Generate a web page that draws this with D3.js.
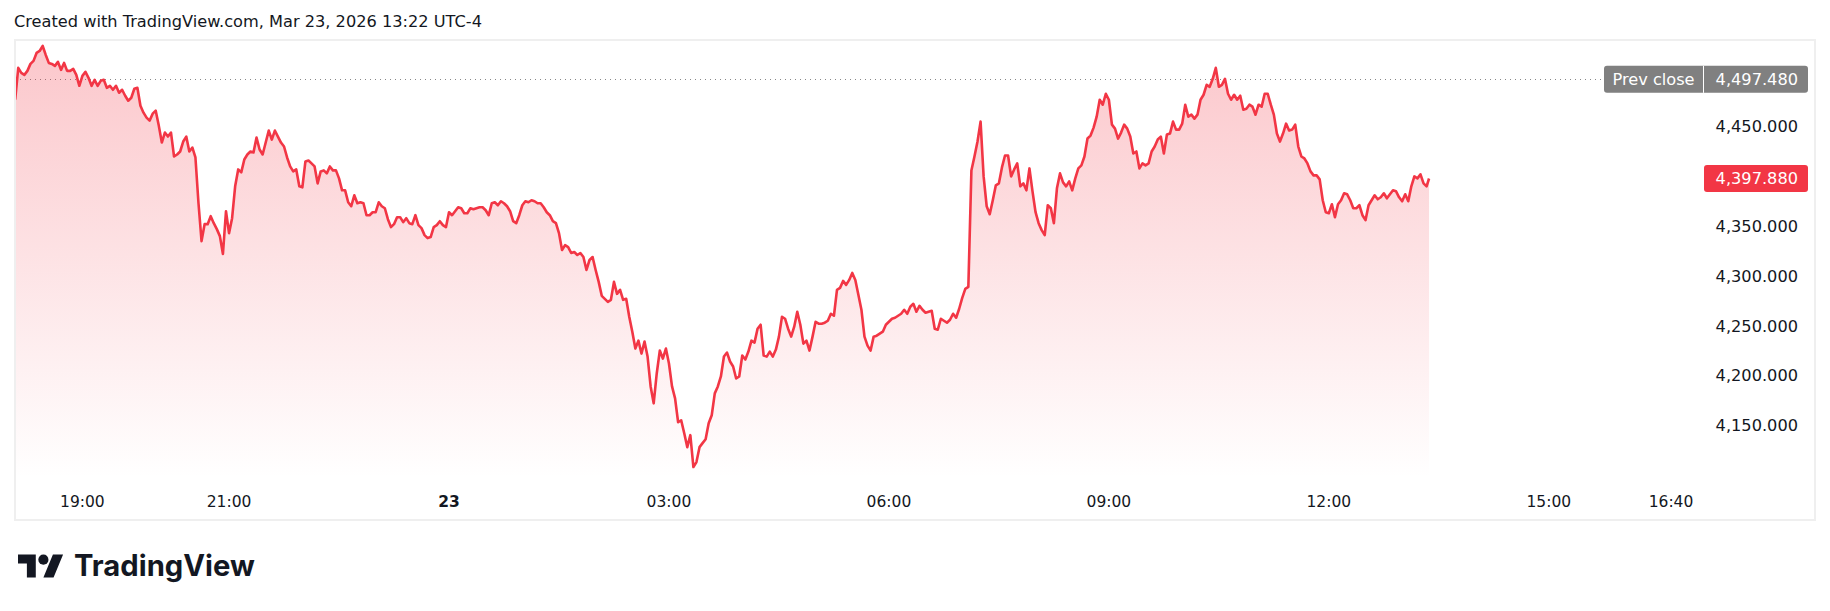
<!DOCTYPE html>
<html><head><meta charset="utf-8">
<script src="https://cdn.jsdelivr.net/npm/d3@7"></script>
<style>html,body{margin:0;padding:0;background:#fff;} svg{display:block;}</style>
</head><body>
<svg id="c" width="1830" height="611"></svg>
<script>
const titleText = "Created with TradingView.com, Mar 23, 2026 13:22 UTC-4";
const brandText = "TradingView";
const seriesStart = "2026-03-22T18:05";
const seriesStepSeconds = 150;
const prices = [
4477,4509,4504,4502,4506,4513,4516,4524,4526,4531,
4522,4514,4513,4511,4515,4507,4514,4506,4506,4508,
4502,4491,4501,4505,4499,4491,4497,4491,4496,4497,
4489,4491,4487,4491,4484,4487,4481,4476,4479,4488,
4489,4471,4464,4459,4456,4463,4466,4451,4434,4444,
4440,4444,4420,4422,4425,4435,4440,4425,4429,4419,
4373,4335,4352,4352,4360,4353,4347,4340,4322,4365,
4343,4358,4390,4407,4404,4417,4422,4425,4424,4439,
4427,4422,4434,4446,4437,4446,4440,4434,4430,4419,
4410,4405,4407,4390,4389,4415,4416,4413,4410,4393,
4405,4406,4403,4410,4406,4406,4398,4386,4386,4374,
4370,4381,4373,4374,4373,4361,4361,4364,4364,4374,
4370,4368,4357,4349,4352,4359,4359,4354,4358,4353,
4352,4361,4351,4348,4341,4338,4339,4349,4351,4355,
4351,4349,4364,4361,4365,4369,4368,4363,4363,4368,
4367,4368,4369,4369,4366,4361,4373,4374,4371,4375,
4373,4370,4365,4355,4353,4361,4371,4375,4374,4376,
4375,4373,4373,4369,4364,4361,4355,4353,4343,4326,
4331,4329,4323,4324,4321,4323,4319,4306,4316,4319,
4306,4294,4280,4277,4274,4276,4294,4282,4286,4276,
4277,4259,4244,4227,4235,4222,4234,4219,4189,4172,
4202,4225,4217,4227,4212,4189,4177,4153,4155,4142,
4128,4140,4108,4113,4128,4132,4136,4152,4160,4182,
4189,4199,4219,4223,4214,4209,4197,4199,4220,4216,
4224,4235,4233,4247,4251,4220,4219,4224,4219,4226,
4239,4259,4257,4247,4239,4249,4264,4251,4232,4235,
4225,4239,4254,4252,4252,4253,4255,4262,4260,4286,
4288,4295,4291,4296,4303,4296,4281,4266,4239,4230,
4225,4239,4240,4242,4244,4251,4254,4257,4258,4260,
4262,4266,4262,4269,4272,4264,4270,4266,4263,4264,
4265,4247,4246,4257,4255,4253,4256,4262,4258,4267,
4278,4287,4289,4406,4420,4435,4455,4400,4370,4362,
4376,4391,4393,4409,4421,4421,4400,4407,4413,4390,
4393,4386,4408,4385,4364,4353,4346,4341,4371,4368,
4353,4388,4403,4394,4390,4395,4386,4398,4408,4411,
4420,4438,4441,4449,4460,4477,4472,4483,4477,4452,
4448,4438,4444,4452,4448,4440,4423,4425,4408,4413,
4411,4413,4425,4430,4437,4440,4423,4442,4443,4455,
4447,4447,4453,4472,4460,4462,4458,4462,4477,4482,
4492,4490,4498,4509,4490,4492,4498,4483,4477,4482,
4477,4481,4467,4468,4472,4470,4462,4472,4470,4483,
4483,4472,4462,4443,4435,4443,4453,4446,4447,4452,
4430,4420,4418,4413,4405,4401,4401,4397,4376,4364,
4363,4372,4359,4372,4376,4383,4382,4376,4368,4368,
4371,4361,4356,4371,4376,4381,4377,4379,4383,4378,
4382,4386,4385,4379,4375,4382,4375,4390,4400,4398,
4402,4393,4390
];
const lastTime = "2026-03-23T13:22";
const lastPrice = 4397.88;
const prevClose = 4497.48;
const prevCloseLabel = "Prev close";
const priceTicks = [4150, 4200, 4250, 4300, 4350, 4450];
const timeTicks = ["2026-03-22T19:00","2026-03-22T21:00","2026-03-23T00:00","2026-03-23T03:00","2026-03-23T06:00","2026-03-23T09:00","2026-03-23T12:00","2026-03-23T15:00","2026-03-23T16:40"];
const timeTickLabels = ["19:00","21:00","23","03:00","06:00","09:00","12:00","15:00","16:40"];
const boldTickLabels = ["23"];

const parse = d3.timeParse("%Y-%m-%dT%H:%M");
const t0 = parse(seriesStart);
const data = prices.map((v, i) => ({t: d3.timeSecond.offset(t0, i * seriesStepSeconds), v}));
data.push({t: parse(lastTime), v: lastPrice});

const RED = "#F23645", TXT = "#131722", FONT = "DejaVu Sans, Verdana, sans-serif";
const frame = {x: 15, y: 40, w: 1800, h: 480};
const plot = {left: 15, top: 41, bottom: 478, right: 1700};

const x = d3.scaleTime()
  .domain([parse("2026-03-23T00:00"), parse("2026-03-23T16:40")])
  .range([449, 1671]);
const y = d3.scaleLinear().domain([4097, 4536]).range([plot.bottom, plot.top]);

const svg = d3.select("#c");
const defs = svg.append("defs");

// header
svg.append("text").attr("x", 14).attr("y", 26.5).attr("font-family", FONT)
  .attr("font-size", 16.2).attr("fill", TXT).text(titleText);

// frame
svg.append("rect").attr("x", frame.x).attr("y", frame.y).attr("width", frame.w).attr("height", frame.h)
  .attr("fill", "#fff").attr("stroke", "#efefef").attr("stroke-width", 2);

defs.append("clipPath").attr("id", "plotclip").append("rect")
  .attr("x", plot.left + 1).attr("y", plot.top).attr("width", plot.right - plot.left).attr("height", plot.bottom - plot.top);

const topY = y(d3.max(data, d => d.v));
const grad = defs.append("linearGradient").attr("id", "fillgrad")
  .attr("gradientUnits", "userSpaceOnUse").attr("x1", 0).attr("x2", 0).attr("y1", topY).attr("y2", plot.bottom);
grad.append("stop").attr("offset", 0).attr("stop-color", RED).attr("stop-opacity", 0.28);
grad.append("stop").attr("offset", 1).attr("stop-color", RED).attr("stop-opacity", 0.0);

const g = svg.append("g").attr("clip-path", "url(#plotclip)");

// prev close dotted line
g.append("line").attr("x1", plot.left).attr("x2", 1604).attr("y1", Math.round(y(prevClose)) + 0.5).attr("y2", Math.round(y(prevClose)) + 0.5)
  .attr("stroke", "#888").attr("stroke-width", 1).attr("stroke-dasharray", "1,4");

const area = d3.area().x(d => x(d.t)).y0(plot.bottom).y1(d => y(d.v));
const line = d3.line().x(d => x(d.t)).y(d => y(d.v));
g.append("path").datum(data).attr("d", area).attr("fill", "url(#fillgrad)");
g.append("path").datum(data).attr("d", line).attr("fill", "none").attr("stroke", RED)
  .attr("stroke-width", 2.6).attr("stroke-linejoin", "round");

// price axis labels
const fmt = d3.format(",.3f");
const axisX = 1798;
const AX = 16.2;
svg.append("g").selectAll("text").data(priceTicks).join("text")
  .attr("x", axisX).attr("y", d => y(d)).attr("dy", "0.36em").attr("text-anchor", "end")
  .attr("font-family", FONT).attr("font-size", AX).attr("fill", TXT).text(d => fmt(d));

// time axis labels
svg.append("g").selectAll("text").data(timeTicks).join("text")
  .attr("x", d => x(parse(d))).attr("y", 501).attr("dy", "0.36em").attr("text-anchor", "middle")
  .attr("font-family", FONT).attr("font-size", 15.5).attr("fill", TXT)
  .attr("font-weight", (d, i) => boldTickLabels.includes(timeTickLabels[i]) ? "bold" : "normal")
  .text((d, i) => timeTickLabels[i]);

// prev close label
const pcY = y(prevClose);
const lblH = 27;
svg.append("rect").attr("x", 1604).attr("y", pcY - lblH / 2).attr("width", 204).attr("height", lblH)
  .attr("rx", 3).attr("fill", "#808080");
svg.append("line").attr("x1", 1703.5).attr("x2", 1703.5).attr("y1", pcY - lblH / 2).attr("y2", pcY + lblH / 2)
  .attr("stroke", "#fff").attr("stroke-width", 1);
svg.append("text").attr("x", 1653.5).attr("y", pcY).attr("dy", "0.36em").attr("text-anchor", "middle")
  .attr("font-family", FONT).attr("font-size", AX).attr("fill", "#fff").text(prevCloseLabel);
svg.append("text").attr("x", axisX).attr("y", pcY).attr("dy", "0.36em").attr("text-anchor", "end")
  .attr("font-family", FONT).attr("font-size", AX).attr("fill", "#fff").text(fmt(prevClose));

// last price label
const lpY = y(lastPrice);
svg.append("rect").attr("x", 1704).attr("y", lpY - lblH / 2).attr("width", 104).attr("height", lblH)
  .attr("rx", 3).attr("fill", RED);
svg.append("text").attr("x", axisX).attr("y", lpY).attr("dy", "0.36em").attr("text-anchor", "end")
  .attr("font-family", FONT).attr("font-size", AX).attr("fill", "#fff").text(fmt(lastPrice));

// TradingView brand
const logo = svg.append("g").attr("transform", "translate(18,549.5) scale(1.27)").attr("fill", TXT);
logo.append("path").attr("d", "M14 22H7V11H0V4h14v18zM28 22h-8l7.5-18h8L28 22z");
logo.append("circle").attr("cx", 20).attr("cy", 8).attr("r", 4);
const brand = svg.append("text").attr("x", 74).attr("y", 576).attr("font-family", "Inter, Lato, sans-serif")
  .attr("font-weight", 700).attr("font-size", 30).attr("fill", TXT).text(brandText);
const bw = brand.node().getComputedTextLength();
brand.attr("font-size", 30 * 181 / bw);
</script>
</body></html>
